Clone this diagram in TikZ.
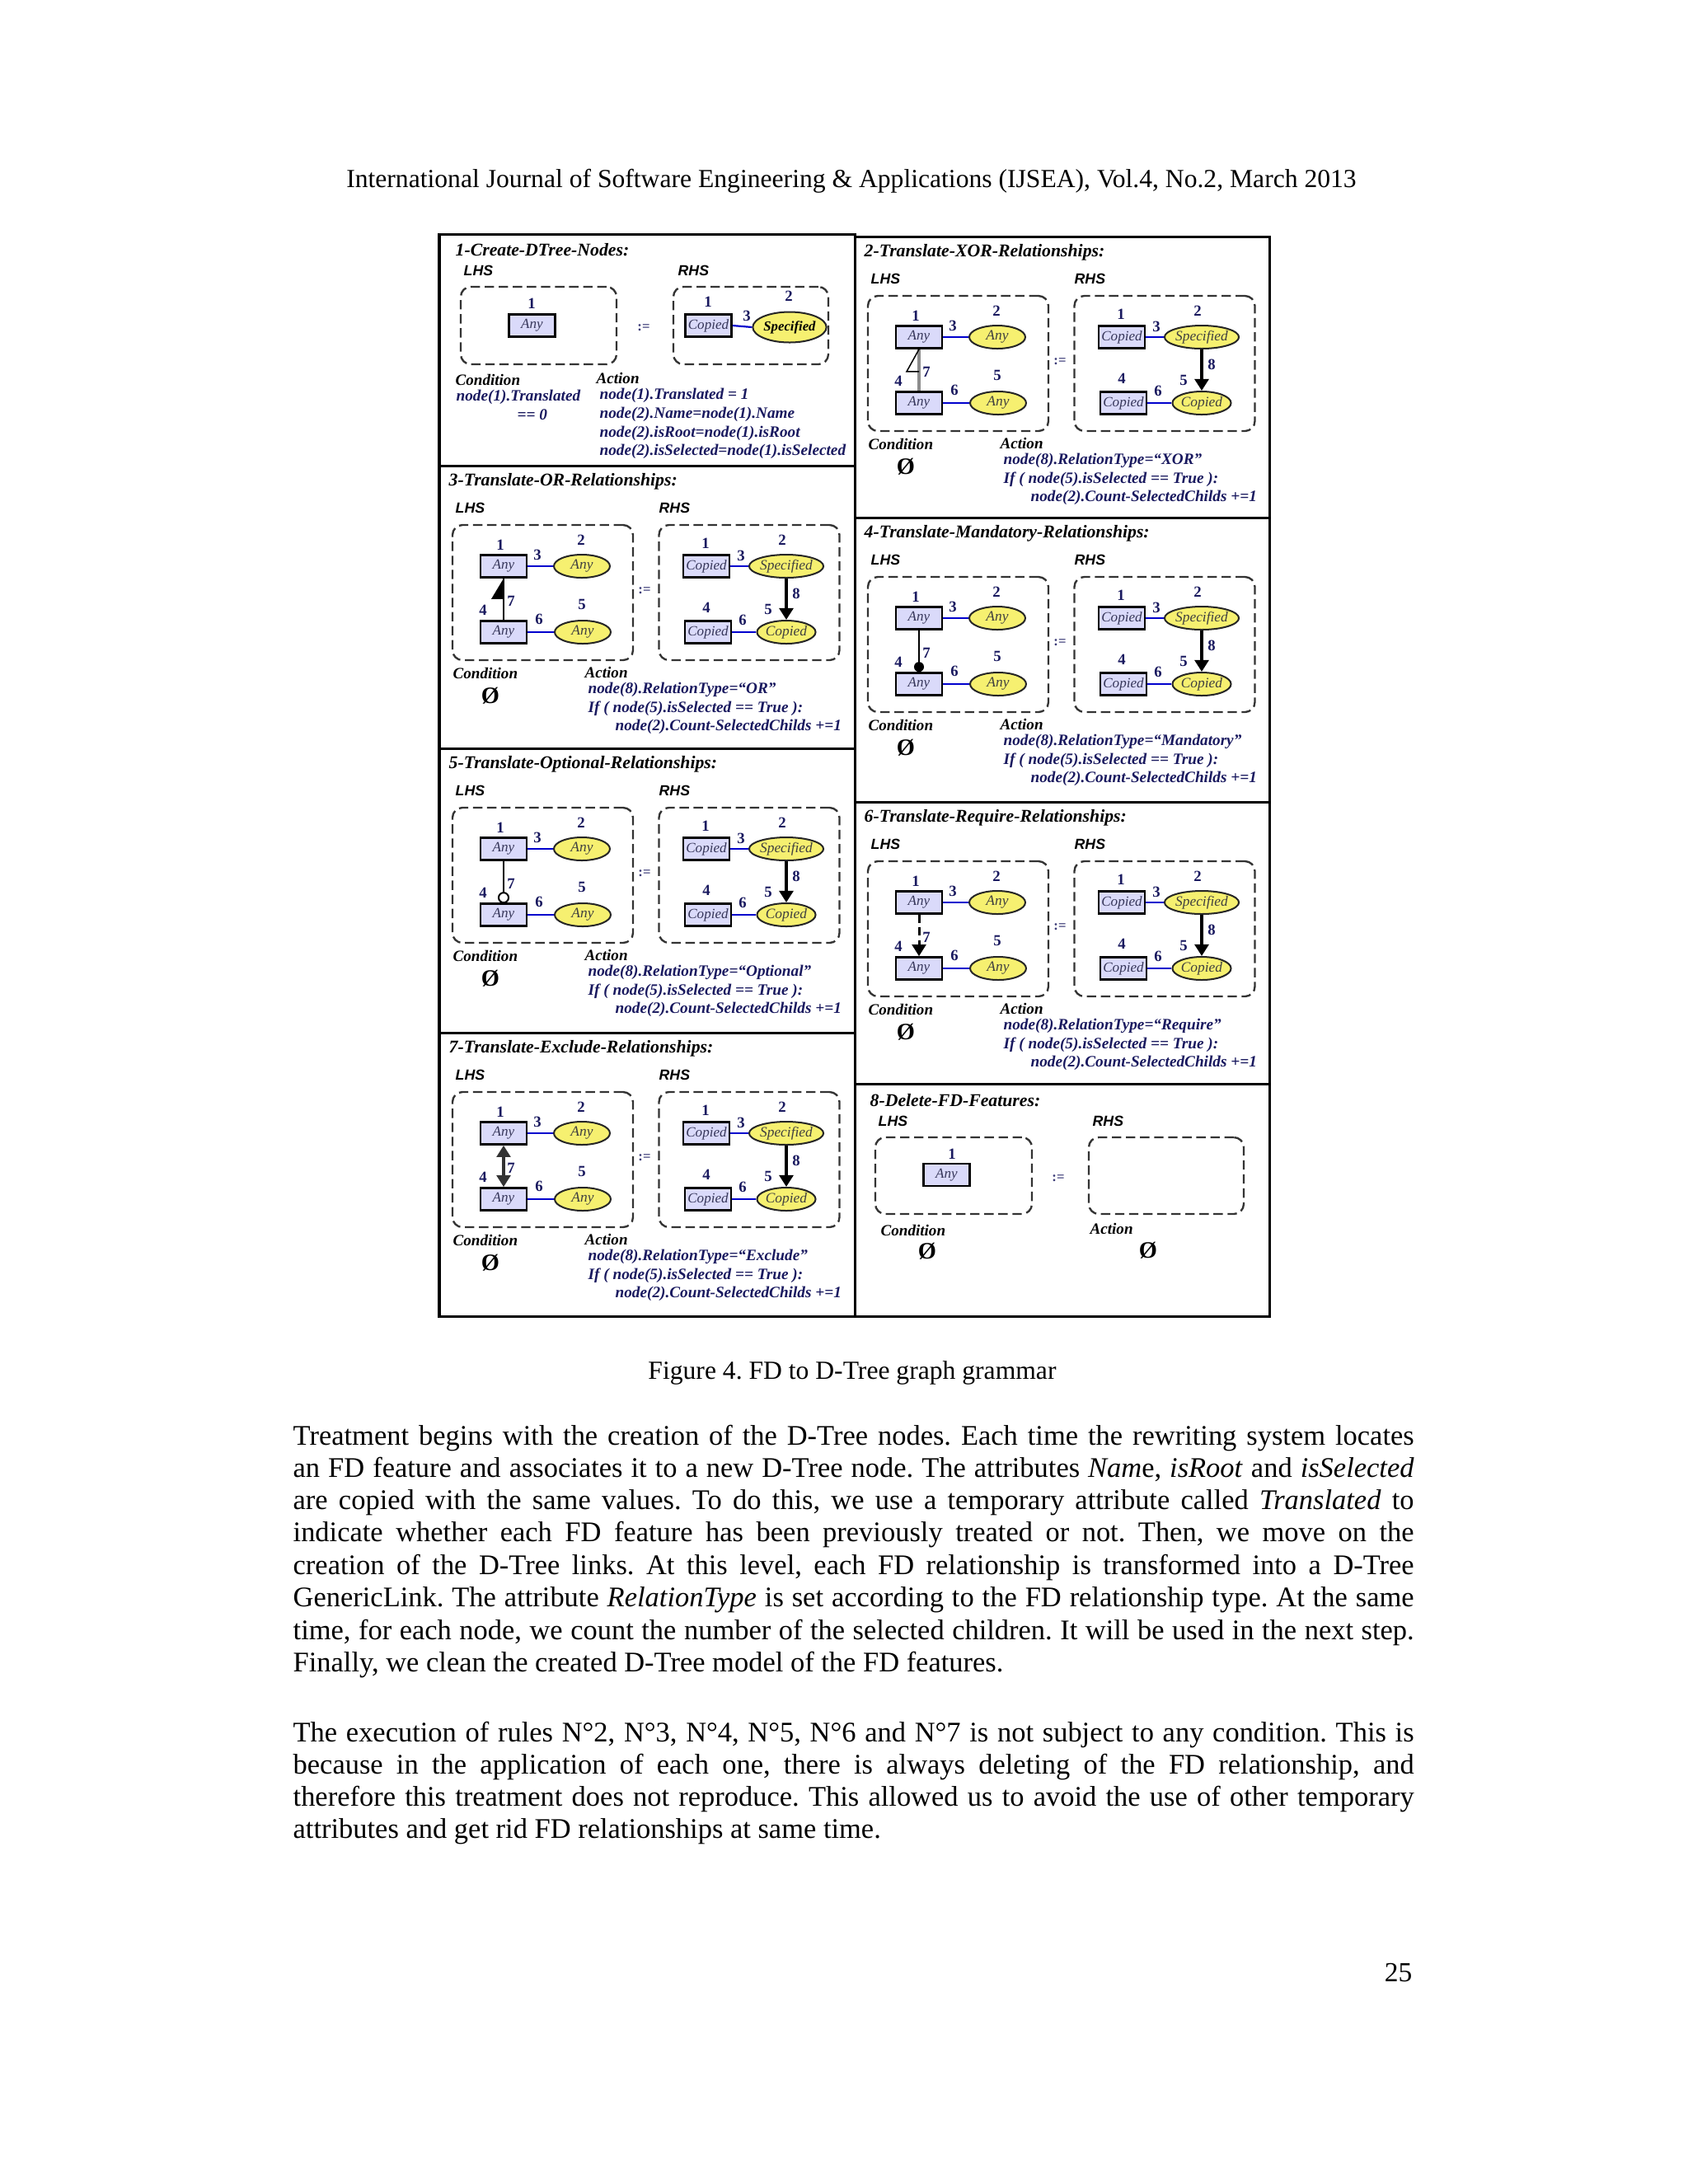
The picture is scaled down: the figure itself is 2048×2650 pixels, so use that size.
\documentclass[tikz,border=0pt]{standalone}
\usepackage{fontspec}
\setmainfont{Liberation Serif}
\setsansfont{Liberation Sans}
\usetikzlibrary{shapes.geometric,arrows.meta}
\def\pxu{0.29883pt}
\definecolor{lav}{RGB}{218,218,250}
\definecolor{yel}{RGB}{246,240,112}
\definecolor{navy}{RGB}{25,25,95}
\definecolor{lnk}{RGB}{0,0,205}
\definecolor{ntxt}{RGB}{55,55,90}
\tikzset{
  ptitle/.style={anchor=west,inner sep=0pt,font=\bfseries\itshape\fontsize{6.5}{7.5}\selectfont},
  side/.style={anchor=west,inner sep=0pt,font=\sffamily\bfseries\itshape\fontsize{5.3}{6}\selectfont},
  dbox/.style={draw=black!80,line width=0.7pt,dash pattern=on 3.4pt off 1.7pt,rounded corners=3.6pt,inner sep=0pt,minimum width=219*\pxu,minimum height=164*\pxu},
  assign/.style={inner sep=0pt,text=navy!85,font=\bfseries\fontsize{5}{6}\selectfont},
  rnode/.style={draw=black,line width=0.8pt,fill=lav,inner sep=0pt,minimum width=56*\pxu,minimum height=27*\pxu,text=ntxt,font=\itshape\fontsize{5.1}{6}\selectfont},
  enode/.style={ellipse,draw=black!85,line width=0.6pt,fill=yel,inner sep=0pt,minimum width=68*\pxu,minimum height=28*\pxu,text=black!75,font=\itshape\fontsize{5.2}{6}\selectfont},
  num/.style={inner sep=0pt,text=navy,font=\bfseries\fontsize{5.6}{6}\selectfont},
  link/.style={draw=lnk,line width=0.65pt},
  thickarrow/.style={line width=1.2pt,-{Triangle[length=4.2pt,width=5pt]}},
  cond/.style={anchor=west,inner sep=0pt,font=\bfseries\itshape\fontsize{5.7}{7}\selectfont},
  empt/.style={inner sep=0pt,font=\bfseries\fontsize{8.5}{9}\selectfont},
  acttext/.style={anchor=west,inner sep=0pt,text=navy,font=\bfseries\itshape\fontsize{5.75}{6.5}\selectfont},
  bodyline/.style={anchor=base west,inner sep=0pt,font=\frenchspacing\fontsize{10.3}{11.75}\selectfont},
  pageline/.style={inner sep=0pt,font=\frenchspacing\fontsize{9.45}{11}\selectfont},
  frame/.style={line width=0.9pt}
}
\newcommand{\bl}[1]{\makebox[406.4pt][s]{#1}}
% #1 prefix, #2 x, #3 y, #4 title, #5 relation type, #6 edge-7 drawing
\newcommand{\rulepanel}[6]{%
\begin{scope}[shift={(#2,#3)}]
 \node[ptitle] (#1title) at (11,19) {#4};
 \node[side] (#1lhs) at (19,51) {LHS};
 \node[side] (#1rhs) at (266,51) {RHS};
 \node[dbox] (#1lbox) at (125.5,154) {};
 \node[dbox] (#1rbox) at (376,154) {};
 \node[assign] (#1as) at (249,152) {:=};
 \node[rnode] (#1a1) at (78,122) {Any};
 \node[enode] (#1a2) at (173,122) {Any};
 \node[rnode] (#1a4) at (78,202) {Any};
 \node[enode] (#1a5) at (174,202) {Any};
 \draw[link] (#1a1) -- (#1a2);
 \draw[link] (#1a4) -- (#1a5);
 \node[num] (#1n1) at (74,96) {1};
 \node[num] (#1n2) at (172,90) {2};
 \node[num] (#1n3) at (119,108) {3};
 \node[num] (#1n4) at (53,175) {4};
 \node[num] (#1n5) at (173,168) {5};
 \node[num] (#1n6) at (121,186) {6};
 \node[num] (#1n7) at (87,164) {7};
 #6
 \node[rnode] (#1b1) at (324,122) {Copied};
 \node[enode] (#1b2) at (421,122) {Specified};
 \node[rnode] (#1b4) at (326,202) {Copied};
 \node[enode] (#1b5) at (421,202) {Copied};
 \draw[link] (#1b1) -- (#1b2);
 \draw[link] (#1b4) -- (#1b5);
 \draw[thickarrow] (#1b2) -- (#1b5);
 \node[num] (#1m1) at (323,94) {1};
 \node[num] (#1m2) at (416,90) {2};
 \node[num] (#1m3) at (366,109) {3};
 \node[num] (#1m4) at (324,172) {4};
 \node[num] (#1m5) at (399,174) {5};
 \node[num] (#1m6) at (368,187) {6};
 \node[num] (#1m8) at (433,155) {8};
 \node[cond] (#1cond) at (16,252) {Condition};
 \node[empt] (#1ce) at (62,279) {\O};
 \node[cond] (#1act) at (176,251) {Action};
 \node[acttext] (#1x1) at (180,272) {node(8).RelationType=``#5''};
 \node[acttext] (#1x2) at (180,295) {If ( node(5).isSelected == True ):};
 \node[acttext] (#1x3) at (213,317) {node(2).Count-SelectedChilds +=1};
\end{scope}}
\begin{document}
\begin{tikzpicture}[x=0.29883pt,y=-0.29883pt]
\fill[white] (0,0) rectangle (2048,2650);
\useasboundingbox (0,0) rectangle (2048,2650);

% page header, caption, body, page number
\node[pageline] (header) at (1033,220) {International Journal of Software Engineering \& Applications (IJSEA), Vol.4, No.2, March 2013};
\node[pageline] (caption) at (1034,1666) {Figure 4. FD to D-Tree graph grammar};
\node[bodyline] (b1) at (355,1753) {\bl{Treatment begins with the creation of the D-Tree nodes. Each time the rewriting system locates}};
\node[bodyline] (b2) at (355,1792) {\bl{an FD feature and associates it to a new D-Tree node. The attributes \textit{Nam}e, \textit{isRoot} and \textit{isSelected}}};
\node[bodyline] (b3) at (355,1831) {\bl{are copied with the same values. To do this, we use a temporary attribute called \textit{Translated} to}};
\node[bodyline] (b4) at (355,1870) {\bl{indicate whether each FD feature has been previously treated or not. Then, we move on the}};
\node[bodyline] (b5) at (355,1910) {\bl{creation of the D-Tree links. At this level, each FD relationship is transformed into a D-Tree}};
\node[bodyline] (b6) at (355,1949) {\bl{GenericLink. The attribute \textit{RelationType} is set according to the FD relationship type. At the same}};
\node[bodyline] (b7) at (355,1989) {\bl{time, for each node, we count the number of the selected children. It will be used in the next step.}};
\node[bodyline] (b8) at (355,2028) {Finally, we clean the created D-Tree model of the FD features.};
\node[bodyline] (c1) at (355,2113) {\bl{The execution of rules N°2, N°3, N°4, N°5, N°6 and N°7 is not subject to any condition. This is}};
\node[bodyline] (c2) at (355,2152) {\bl{because in the application of each one, there is always deleting of the FD relationship, and}};
\node[bodyline] (c3) at (355,2191) {\bl{therefore this treatment does not reproduce. This allowed us to avoid the use of other temporary}};
\node[bodyline] (c4) at (355,2230) {attributes and get rid FD relationships at same time.};
\node[pageline,anchor=base east,font=\fontsize{10}{11}\selectfont] (pagenum) at (1714,2404) {25};

% figure frames
\draw[frame] (533,284) rectangle (1037,1597);
\draw[frame] (1037,287) rectangle (1540,1597);
\draw[frame] (533,565) -- (1037,565);
\draw[frame] (533,908) -- (1037,908);
\draw[frame] (533,1253) -- (1037,1253);
\draw[frame] (1037,628) -- (1540,628);
\draw[frame] (1037,973) -- (1540,973);
\draw[frame] (1037,1315) -- (1540,1315);

% panel 1
\begin{scope}[shift={(533,285)}]
 \node[ptitle] (p1title) at (19,18) {1-Create-DTree-Nodes:};
 \node[side] (p1lhs) at (29,43) {LHS};
 \node[side] (p1rhs) at (289,43) {RHS};
 \node[dbox,minimum width=189*\pxu,minimum height=94*\pxu] (p1lbox) at (120.5,110) {};
 \node[dbox,minimum width=188*\pxu,minimum height=94*\pxu] (p1rbox) at (378,110) {};
 \node[assign] (p1as) at (248,113) {:=};
 \node[rnode] (p1a1) at (112.5,110) {Any};
 \node[num] (p1n1) at (112,83) {1};
 \node[rnode] (p1b1) at (326.5,110) {Copied};
 \node[num] (p1m1) at (326,81) {1};
 \node[enode,minimum width=70*\pxu,minimum height=37*\pxu,font=\bfseries\itshape\fontsize{5}{6}\selectfont,text=black] (p1b2) at (425,112) {Specified};
 \node[num] (p1m2) at (424,74) {2};
 \node[num] (p1m3) at (373,98) {3};
 \draw[link] (p1b1.east) -- (p1b2.west);
 \node[cond] (p1cond) at (19,176) {Condition};
 \node[acttext] (p1c1) at (20,197) {node(1).Translated};
 \node[acttext] (p1c2) at (94,218) {== 0};
 \node[cond] (p1act) at (190,174) {Action};
 \node[acttext] (p1x1) at (194,195) {node(1).Translated = 1};
 \node[acttext] (p1x2) at (194,218) {node(2).Name=node(1).Name};
 \node[acttext] (p1x3) at (194,241) {node(2).isRoot=node(1).isRoot};
 \node[acttext] (p1x4) at (194,263) {node(2).isSelected=node(1).isSelected};
\end{scope}

% panels 2-7
\rulepanel{p2}{1037}{287}{2-Translate-XOR-Relationships:}{XOR}{%
 \draw[line width=1.2pt,black!45] (p2a1) -- (p2a4);
 \draw[line width=0.45pt] (p2a1.south) -- ++(-15,27) -- ++(15,0);}
\rulepanel{p3}{533}{565}{3-Translate-OR-Relationships:}{OR}{%
 \draw[line width=0.8pt] (p3a1) -- (p3a4);
 \fill (p3a1.south) -- ++(-15,25) -- ++(15,0) -- cycle;}
\rulepanel{p4}{1037}{628}{4-Translate-Mandatory-Relationships:}{Mandatory}{%
 \draw[line width=0.8pt] (p4a1) -- (p4a4);
 \fill (p4a4.north) ++(0,-6) circle[radius=1.8pt];}
\rulepanel{p5}{533}{908}{5-Translate-Optional-Relationships:}{Optional}{%
 \draw[line width=0.8pt] (p5a1) -- (p5a4);
 \draw[line width=0.6pt,fill=white] (p5a4.north) ++(0,-6) circle[radius=1.8pt];}
\rulepanel{p6}{1037}{973}{6-Translate-Require-Relationships:}{Require}{%
 \draw[line width=0.9pt,dash pattern=on 3pt off 1.6pt,-{Triangle[length=4.2pt,width=5pt]}] (p6a1) -- (p6a4);}
\rulepanel{p7}{533}{1253}{7-Translate-Exclude-Relationships:}{Exclude}{%
 \draw[line width=0.9pt,black!80,{Triangle[length=4.2pt,width=5pt]}-{Triangle[length=4.2pt,width=5pt]}] (p7a1) -- (p7a4);}

% panel 8
\begin{scope}[shift={(1037,1315)}]
 \node[ptitle] (p8title) at (18,20) {8-Delete-FD-Features:};
 \node[side] (p8lhs) at (28,45) {LHS};
 \node[side] (p8rhs) at (288,45) {RHS};
 \node[dbox,minimum width=190*\pxu,minimum height=93*\pxu] (p8lbox) at (120,111.5) {};
 \node[dbox,minimum width=188*\pxu,minimum height=93*\pxu] (p8rbox) at (378,111.5) {};
 \node[assign] (p8as) at (247,115) {:=};
 \node[rnode] (p8a1) at (111.5,110.5) {Any};
 \node[num] (p8n1) at (118,85) {1};
 \node[cond] (p8cond) at (31,178) {Condition};
 \node[empt] (p8ce) at (88,203) {\O};
 \node[cond] (p8act) at (285,176) {Action};
 \node[empt] (p8ae) at (356,202) {\O};
\end{scope}
\end{tikzpicture}
\end{document}
